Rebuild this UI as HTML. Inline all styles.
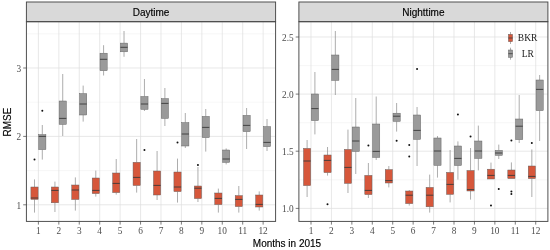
<!DOCTYPE html>
<html><head><meta charset="utf-8"><title>RMSE boxplots</title>
<style>
html,body{margin:0;padding:0;background:#fff;}
svg{display:block;}
.sans{font-family:"Liberation Sans",Arial,sans-serif;font-size:10px;fill:#000;stroke:#000;stroke-width:0.15px;}
.serif{font-family:"Liberation Serif","Times New Roman",serif;font-size:9.3px;fill:#4d4d4d;}
.leg{font-family:"Liberation Serif","Times New Roman",serif;font-size:9.5px;fill:#1a1a1a;}
</style></head><body>
<svg width="550" height="250" viewBox="0 0 550 250">
<rect width="550" height="250" fill="#fff"/>
<rect x="26.4" y="21.7" width="249.20000000000002" height="199.70000000000002" fill="#fff"/>
<path d="M26.4 33.8H275.6" stroke="#efefef" stroke-width="0.5"/>
<path d="M26.4 102.2H275.6" stroke="#efefef" stroke-width="0.5"/>
<path d="M26.4 170.6H275.6" stroke="#efefef" stroke-width="0.5"/>
<path d="M26.4 68H275.6" stroke="#dedede" stroke-width="0.7"/>
<path d="M26.4 136.4H275.6" stroke="#dedede" stroke-width="0.7"/>
<path d="M26.4 204.8H275.6" stroke="#dedede" stroke-width="0.7"/>
<path d="M38.40 21.7V221.4" stroke="#dedede" stroke-width="0.7"/>
<path d="M58.83 21.7V221.4" stroke="#dedede" stroke-width="0.7"/>
<path d="M79.26 21.7V221.4" stroke="#dedede" stroke-width="0.7"/>
<path d="M99.69 21.7V221.4" stroke="#dedede" stroke-width="0.7"/>
<path d="M120.12 21.7V221.4" stroke="#dedede" stroke-width="0.7"/>
<path d="M140.55 21.7V221.4" stroke="#dedede" stroke-width="0.7"/>
<path d="M160.98 21.7V221.4" stroke="#dedede" stroke-width="0.7"/>
<path d="M181.41 21.7V221.4" stroke="#dedede" stroke-width="0.7"/>
<path d="M201.84 21.7V221.4" stroke="#dedede" stroke-width="0.7"/>
<path d="M222.27 21.7V221.4" stroke="#dedede" stroke-width="0.7"/>
<path d="M242.70 21.7V221.4" stroke="#dedede" stroke-width="0.7"/>
<path d="M263.13 21.7V221.4" stroke="#dedede" stroke-width="0.7"/>
<path d="M34.50 179.40V187.00M34.50 199.40V212.60" stroke="#8a8a8a" stroke-width="0.7" fill="none"/>
<rect x="30.90" y="187.00" width="7.2" height="12.40" fill="#d6573b" stroke="#5e5e5e" stroke-width="0.45"/>
<path d="M30.90 198.00H38.10" stroke="#3a3a3a" stroke-width="0.9" fill="none"/>
<circle cx="34.50" cy="159.60" r="1.0" fill="#111"/>
<path d="M54.93 181.60V187.00M54.93 202.80V212.00" stroke="#8a8a8a" stroke-width="0.7" fill="none"/>
<rect x="51.33" y="187.00" width="7.2" height="15.80" fill="#d6573b" stroke="#5e5e5e" stroke-width="0.45"/>
<path d="M51.33 190.40H58.53" stroke="#3a3a3a" stroke-width="0.9" fill="none"/>
<path d="M75.36 177.40V185.00M75.36 199.50V210.60" stroke="#8a8a8a" stroke-width="0.7" fill="none"/>
<rect x="71.76" y="185.00" width="7.2" height="14.50" fill="#d6573b" stroke="#5e5e5e" stroke-width="0.45"/>
<path d="M71.76 190.00H78.96" stroke="#3a3a3a" stroke-width="0.9" fill="none"/>
<path d="M95.79 170.60V178.00M95.79 193.60V196.60" stroke="#8a8a8a" stroke-width="0.7" fill="none"/>
<rect x="92.19" y="178.00" width="7.2" height="15.60" fill="#d6573b" stroke="#5e5e5e" stroke-width="0.45"/>
<path d="M92.19 190.40H99.39" stroke="#3a3a3a" stroke-width="0.9" fill="none"/>
<path d="M116.22 159.00V173.00M116.22 192.60V194.60" stroke="#8a8a8a" stroke-width="0.7" fill="none"/>
<rect x="112.62" y="173.00" width="7.2" height="19.60" fill="#d6573b" stroke="#5e5e5e" stroke-width="0.45"/>
<path d="M112.62 183.40H119.82" stroke="#3a3a3a" stroke-width="0.9" fill="none"/>
<path d="M136.65 139.00V162.30M136.65 185.50V192.60" stroke="#8a8a8a" stroke-width="0.7" fill="none"/>
<rect x="133.05" y="162.30" width="7.2" height="23.20" fill="#d6573b" stroke="#5e5e5e" stroke-width="0.45"/>
<path d="M133.05 177.40H140.25" stroke="#3a3a3a" stroke-width="0.9" fill="none"/>
<path d="M157.08 151.00V171.00M157.08 195.00V200.00" stroke="#8a8a8a" stroke-width="0.7" fill="none"/>
<rect x="153.48" y="171.00" width="7.2" height="24.00" fill="#d6573b" stroke="#5e5e5e" stroke-width="0.45"/>
<path d="M153.48 185.40H160.68" stroke="#3a3a3a" stroke-width="0.9" fill="none"/>
<path d="M177.51 158.60V172.00M177.51 191.60V202.60" stroke="#8a8a8a" stroke-width="0.7" fill="none"/>
<rect x="173.91" y="172.00" width="7.2" height="19.60" fill="#d6573b" stroke="#5e5e5e" stroke-width="0.45"/>
<path d="M173.91 187.00H181.11" stroke="#3a3a3a" stroke-width="0.9" fill="none"/>
<circle cx="177.51" cy="142.60" r="1.0" fill="#111"/>
<path d="M197.94 167.00V186.00M197.94 198.60V202.00" stroke="#8a8a8a" stroke-width="0.7" fill="none"/>
<rect x="194.34" y="186.00" width="7.2" height="12.60" fill="#d6573b" stroke="#5e5e5e" stroke-width="0.45"/>
<path d="M194.34 188.20H201.54" stroke="#3a3a3a" stroke-width="0.9" fill="none"/>
<circle cx="197.94" cy="165.00" r="1.0" fill="#111"/>
<path d="M218.37 188.60V193.00M218.37 204.60V212.60" stroke="#8a8a8a" stroke-width="0.7" fill="none"/>
<rect x="214.77" y="193.00" width="7.2" height="11.60" fill="#d6573b" stroke="#5e5e5e" stroke-width="0.45"/>
<path d="M214.77 198.40H221.97" stroke="#3a3a3a" stroke-width="0.9" fill="none"/>
<path d="M238.80 186.00V195.60M238.80 206.60V212.60" stroke="#8a8a8a" stroke-width="0.7" fill="none"/>
<rect x="235.20" y="195.60" width="7.2" height="11.00" fill="#d6573b" stroke="#5e5e5e" stroke-width="0.45"/>
<path d="M235.20 199.40H242.40" stroke="#3a3a3a" stroke-width="0.9" fill="none"/>
<path d="M259.23 191.40V195.00M259.23 207.00V210.60" stroke="#8a8a8a" stroke-width="0.7" fill="none"/>
<rect x="255.63" y="195.00" width="7.2" height="12.00" fill="#d6573b" stroke="#5e5e5e" stroke-width="0.45"/>
<path d="M255.63 204.40H262.83" stroke="#3a3a3a" stroke-width="0.9" fill="none"/>
<path d="M42.30 125.00V134.60M42.30 149.60V159.60" stroke="#8a8a8a" stroke-width="0.7" fill="none"/>
<rect x="38.70" y="134.60" width="7.2" height="15.00" fill="#9a9a9a" stroke="#5e5e5e" stroke-width="0.45"/>
<path d="M38.70 136.40H45.90" stroke="#3a3a3a" stroke-width="0.9" fill="none"/>
<circle cx="42.30" cy="110.80" r="1.0" fill="#111"/>
<path d="M62.73 74.00V101.00M62.73 124.40V136.00" stroke="#8a8a8a" stroke-width="0.7" fill="none"/>
<rect x="59.13" y="101.00" width="7.2" height="23.40" fill="#9a9a9a" stroke="#5e5e5e" stroke-width="0.45"/>
<path d="M59.13 118.40H66.33" stroke="#3a3a3a" stroke-width="0.9" fill="none"/>
<path d="M83.16 85.60V93.60M83.16 115.00V121.60" stroke="#8a8a8a" stroke-width="0.7" fill="none"/>
<rect x="79.56" y="93.60" width="7.2" height="21.40" fill="#9a9a9a" stroke="#5e5e5e" stroke-width="0.45"/>
<path d="M79.56 104.00H86.76" stroke="#3a3a3a" stroke-width="0.9" fill="none"/>
<path d="M103.59 45.20V53.20M103.59 70.70V75.50" stroke="#8a8a8a" stroke-width="0.7" fill="none"/>
<rect x="99.99" y="53.20" width="7.2" height="17.50" fill="#9a9a9a" stroke="#5e5e5e" stroke-width="0.45"/>
<path d="M99.99 59.30H107.19" stroke="#3a3a3a" stroke-width="0.9" fill="none"/>
<path d="M124.02 31.00V43.10M124.02 51.80V56.80" stroke="#8a8a8a" stroke-width="0.7" fill="none"/>
<rect x="120.42" y="43.10" width="7.2" height="8.70" fill="#9a9a9a" stroke="#5e5e5e" stroke-width="0.45"/>
<path d="M120.42 47.30H127.62" stroke="#3a3a3a" stroke-width="0.9" fill="none"/>
<path d="M144.45 79.00V96.50M144.45 109.40V111.00" stroke="#8a8a8a" stroke-width="0.7" fill="none"/>
<rect x="140.85" y="96.50" width="7.2" height="12.90" fill="#9a9a9a" stroke="#5e5e5e" stroke-width="0.45"/>
<path d="M140.85 104.00H148.05" stroke="#3a3a3a" stroke-width="0.9" fill="none"/>
<circle cx="144.45" cy="150.00" r="1.0" fill="#111"/>
<path d="M164.88 88.00V98.60M164.88 118.40V126.00" stroke="#8a8a8a" stroke-width="0.7" fill="none"/>
<rect x="161.28" y="98.60" width="7.2" height="19.80" fill="#9a9a9a" stroke="#5e5e5e" stroke-width="0.45"/>
<path d="M161.28 103.40H168.48" stroke="#3a3a3a" stroke-width="0.9" fill="none"/>
<path d="M185.31 113.00V122.60M185.31 146.00V148.00" stroke="#8a8a8a" stroke-width="0.7" fill="none"/>
<rect x="181.71" y="122.60" width="7.2" height="23.40" fill="#9a9a9a" stroke="#5e5e5e" stroke-width="0.45"/>
<path d="M181.71 134.00H188.91" stroke="#3a3a3a" stroke-width="0.9" fill="none"/>
<path d="M205.74 109.00V116.40M205.74 137.60V151.60" stroke="#8a8a8a" stroke-width="0.7" fill="none"/>
<rect x="202.14" y="116.40" width="7.2" height="21.20" fill="#9a9a9a" stroke="#5e5e5e" stroke-width="0.45"/>
<path d="M202.14 127.40H209.34" stroke="#3a3a3a" stroke-width="0.9" fill="none"/>
<path d="M226.17 148.40V150.00M226.17 162.40V164.40" stroke="#8a8a8a" stroke-width="0.7" fill="none"/>
<rect x="222.57" y="150.00" width="7.2" height="12.40" fill="#9a9a9a" stroke="#5e5e5e" stroke-width="0.45"/>
<path d="M222.57 159.00H229.77" stroke="#3a3a3a" stroke-width="0.9" fill="none"/>
<path d="M246.60 108.00V115.40M246.60 131.60V149.00" stroke="#8a8a8a" stroke-width="0.7" fill="none"/>
<rect x="243.00" y="115.40" width="7.2" height="16.20" fill="#9a9a9a" stroke="#5e5e5e" stroke-width="0.45"/>
<path d="M243.00 125.40H250.20" stroke="#3a3a3a" stroke-width="0.9" fill="none"/>
<path d="M267.03 119.00V126.60M267.03 146.60V151.00" stroke="#8a8a8a" stroke-width="0.7" fill="none"/>
<rect x="263.43" y="126.60" width="7.2" height="20.00" fill="#9a9a9a" stroke="#5e5e5e" stroke-width="0.45"/>
<path d="M263.43 142.40H270.63" stroke="#3a3a3a" stroke-width="0.9" fill="none"/>
<rect x="26.4" y="2.0" width="249.20" height="19.70" fill="#d9d9d9" stroke="#484848" stroke-width="0.95"/>
<rect x="26.4" y="21.7" width="249.20000000000002" height="199.70000000000002" fill="none" stroke="#484848" stroke-width="0.95"/>
<text x="151.00" y="15.9" text-anchor="middle" class="sans">Daytime</text>
<path d="M38.40 221.4V224.6" stroke="#444" stroke-width="0.7"/>
<text x="38.40" y="233.6" text-anchor="middle" class="serif">1</text>
<path d="M58.83 221.4V224.6" stroke="#444" stroke-width="0.7"/>
<text x="58.83" y="233.6" text-anchor="middle" class="serif">2</text>
<path d="M79.26 221.4V224.6" stroke="#444" stroke-width="0.7"/>
<text x="79.26" y="233.6" text-anchor="middle" class="serif">3</text>
<path d="M99.69 221.4V224.6" stroke="#444" stroke-width="0.7"/>
<text x="99.69" y="233.6" text-anchor="middle" class="serif">4</text>
<path d="M120.12 221.4V224.6" stroke="#444" stroke-width="0.7"/>
<text x="120.12" y="233.6" text-anchor="middle" class="serif">5</text>
<path d="M140.55 221.4V224.6" stroke="#444" stroke-width="0.7"/>
<text x="140.55" y="233.6" text-anchor="middle" class="serif">6</text>
<path d="M160.98 221.4V224.6" stroke="#444" stroke-width="0.7"/>
<text x="160.98" y="233.6" text-anchor="middle" class="serif">7</text>
<path d="M181.41 221.4V224.6" stroke="#444" stroke-width="0.7"/>
<text x="181.41" y="233.6" text-anchor="middle" class="serif">8</text>
<path d="M201.84 221.4V224.6" stroke="#444" stroke-width="0.7"/>
<text x="201.84" y="233.6" text-anchor="middle" class="serif">9</text>
<path d="M222.27 221.4V224.6" stroke="#444" stroke-width="0.7"/>
<text x="222.27" y="233.6" text-anchor="middle" class="serif">10</text>
<path d="M242.70 221.4V224.6" stroke="#444" stroke-width="0.7"/>
<text x="242.70" y="233.6" text-anchor="middle" class="serif">11</text>
<path d="M263.13 221.4V224.6" stroke="#444" stroke-width="0.7"/>
<text x="263.13" y="233.6" text-anchor="middle" class="serif">12</text>
<path d="M23.2 68H26.4" stroke="#444" stroke-width="0.7"/>
<text x="21.2" y="71.80" text-anchor="end" class="serif">3</text>
<path d="M23.2 136.4H26.4" stroke="#444" stroke-width="0.7"/>
<text x="21.2" y="140.20" text-anchor="end" class="serif">2</text>
<path d="M23.2 204.8H26.4" stroke="#444" stroke-width="0.7"/>
<text x="21.2" y="208.60" text-anchor="end" class="serif">1</text>
<rect x="298.9" y="21.7" width="249.0" height="199.70000000000002" fill="#fff"/>
<path d="M298.9 65.6H547.9" stroke="#efefef" stroke-width="0.5"/>
<path d="M298.9 122.7H547.9" stroke="#efefef" stroke-width="0.5"/>
<path d="M298.9 179.8H547.9" stroke="#efefef" stroke-width="0.5"/>
<path d="M298.9 37H547.9" stroke="#dedede" stroke-width="0.7"/>
<path d="M298.9 94.1H547.9" stroke="#dedede" stroke-width="0.7"/>
<path d="M298.9 151.2H547.9" stroke="#dedede" stroke-width="0.7"/>
<path d="M298.9 208.4H547.9" stroke="#dedede" stroke-width="0.7"/>
<path d="M311.00 21.7V221.4" stroke="#dedede" stroke-width="0.7"/>
<path d="M331.43 21.7V221.4" stroke="#dedede" stroke-width="0.7"/>
<path d="M351.86 21.7V221.4" stroke="#dedede" stroke-width="0.7"/>
<path d="M372.29 21.7V221.4" stroke="#dedede" stroke-width="0.7"/>
<path d="M392.72 21.7V221.4" stroke="#dedede" stroke-width="0.7"/>
<path d="M413.15 21.7V221.4" stroke="#dedede" stroke-width="0.7"/>
<path d="M433.58 21.7V221.4" stroke="#dedede" stroke-width="0.7"/>
<path d="M454.01 21.7V221.4" stroke="#dedede" stroke-width="0.7"/>
<path d="M474.44 21.7V221.4" stroke="#dedede" stroke-width="0.7"/>
<path d="M494.87 21.7V221.4" stroke="#dedede" stroke-width="0.7"/>
<path d="M515.30 21.7V221.4" stroke="#dedede" stroke-width="0.7"/>
<path d="M535.73 21.7V221.4" stroke="#dedede" stroke-width="0.7"/>
<path d="M307.10 140.00V148.40M307.10 185.60V197.00" stroke="#8a8a8a" stroke-width="0.7" fill="none"/>
<rect x="303.50" y="148.40" width="7.2" height="37.20" fill="#d6573b" stroke="#5e5e5e" stroke-width="0.45"/>
<path d="M303.50 161.00H310.70" stroke="#3a3a3a" stroke-width="0.9" fill="none"/>
<path d="M327.53 147.00V155.00M327.53 172.60V175.60" stroke="#8a8a8a" stroke-width="0.7" fill="none"/>
<rect x="323.93" y="155.00" width="7.2" height="17.60" fill="#d6573b" stroke="#5e5e5e" stroke-width="0.45"/>
<path d="M323.93 160.40H331.13" stroke="#3a3a3a" stroke-width="0.9" fill="none"/>
<circle cx="327.53" cy="204.20" r="1.0" fill="#111"/>
<path d="M347.96 129.60V149.40M347.96 183.40V193.00" stroke="#8a8a8a" stroke-width="0.7" fill="none"/>
<rect x="344.36" y="149.40" width="7.2" height="34.00" fill="#d6573b" stroke="#5e5e5e" stroke-width="0.45"/>
<path d="M344.36 167.40H351.56" stroke="#3a3a3a" stroke-width="0.9" fill="none"/>
<path d="M368.39 163.00V175.40M368.39 194.60V198.00" stroke="#8a8a8a" stroke-width="0.7" fill="none"/>
<rect x="364.79" y="175.40" width="7.2" height="19.20" fill="#d6573b" stroke="#5e5e5e" stroke-width="0.45"/>
<path d="M364.79 190.40H371.99" stroke="#3a3a3a" stroke-width="0.9" fill="none"/>
<circle cx="368.39" cy="145.60" r="1.0" fill="#111"/>
<path d="M388.82 166.00V169.60M388.82 183.00V187.40" stroke="#8a8a8a" stroke-width="0.7" fill="none"/>
<rect x="385.22" y="169.60" width="7.2" height="13.40" fill="#d6573b" stroke="#5e5e5e" stroke-width="0.45"/>
<path d="M385.22 180.60H392.42" stroke="#3a3a3a" stroke-width="0.9" fill="none"/>
<path d="M409.25 190.00V191.00M409.25 203.60V205.60" stroke="#8a8a8a" stroke-width="0.7" fill="none"/>
<rect x="405.65" y="191.00" width="7.2" height="12.60" fill="#d6573b" stroke="#5e5e5e" stroke-width="0.45"/>
<path d="M405.65 195.20H412.85" stroke="#3a3a3a" stroke-width="0.9" fill="none"/>
<circle cx="409.25" cy="145.00" r="1.0" fill="#111"/>
<circle cx="409.25" cy="156.60" r="1.0" fill="#111"/>
<path d="M429.68 174.60V187.40M429.68 206.80V212.60" stroke="#8a8a8a" stroke-width="0.7" fill="none"/>
<rect x="426.08" y="187.40" width="7.2" height="19.40" fill="#d6573b" stroke="#5e5e5e" stroke-width="0.45"/>
<path d="M426.08 195.20H433.28" stroke="#3a3a3a" stroke-width="0.9" fill="none"/>
<path d="M450.11 150.00V172.40M450.11 194.40V202.40" stroke="#8a8a8a" stroke-width="0.7" fill="none"/>
<rect x="446.51" y="172.40" width="7.2" height="22.00" fill="#d6573b" stroke="#5e5e5e" stroke-width="0.45"/>
<path d="M446.51 184.40H453.71" stroke="#3a3a3a" stroke-width="0.9" fill="none"/>
<path d="M470.54 148.00V170.50M470.54 191.00V199.60" stroke="#8a8a8a" stroke-width="0.7" fill="none"/>
<rect x="466.94" y="170.50" width="7.2" height="20.50" fill="#d6573b" stroke="#5e5e5e" stroke-width="0.45"/>
<path d="M466.94 189.60H474.14" stroke="#3a3a3a" stroke-width="0.9" fill="none"/>
<circle cx="470.54" cy="136.60" r="1.0" fill="#111"/>
<path d="M490.97 162.60V169.20M490.97 179.00V179.00" stroke="#8a8a8a" stroke-width="0.7" fill="none"/>
<rect x="487.37" y="169.20" width="7.2" height="9.80" fill="#d6573b" stroke="#5e5e5e" stroke-width="0.45"/>
<path d="M487.37 175.40H494.57" stroke="#3a3a3a" stroke-width="0.9" fill="none"/>
<circle cx="490.97" cy="205.40" r="1.0" fill="#111"/>
<path d="M511.40 162.40V170.00M511.40 178.60V178.60" stroke="#8a8a8a" stroke-width="0.7" fill="none"/>
<rect x="507.80" y="170.00" width="7.2" height="8.60" fill="#d6573b" stroke="#5e5e5e" stroke-width="0.45"/>
<path d="M507.80 175.40H515.00" stroke="#3a3a3a" stroke-width="0.9" fill="none"/>
<circle cx="511.40" cy="140.60" r="1.0" fill="#111"/>
<circle cx="511.40" cy="191.40" r="1.0" fill="#111"/>
<circle cx="511.40" cy="194.00" r="1.0" fill="#111"/>
<path d="M531.83 149.40V166.00M531.83 178.60V197.00" stroke="#8a8a8a" stroke-width="0.7" fill="none"/>
<rect x="528.23" y="166.00" width="7.2" height="12.60" fill="#d6573b" stroke="#5e5e5e" stroke-width="0.45"/>
<path d="M528.23 176.40H535.43" stroke="#3a3a3a" stroke-width="0.9" fill="none"/>
<circle cx="531.83" cy="143.00" r="1.0" fill="#111"/>
<path d="M314.90 72.00V94.00M314.90 120.60V134.40" stroke="#8a8a8a" stroke-width="0.7" fill="none"/>
<rect x="311.30" y="94.00" width="7.2" height="26.60" fill="#9a9a9a" stroke="#5e5e5e" stroke-width="0.45"/>
<path d="M311.30 108.60H318.50" stroke="#3a3a3a" stroke-width="0.9" fill="none"/>
<path d="M335.33 31.00V55.00M335.33 80.40V95.00" stroke="#8a8a8a" stroke-width="0.7" fill="none"/>
<rect x="331.73" y="55.00" width="7.2" height="25.40" fill="#9a9a9a" stroke="#5e5e5e" stroke-width="0.45"/>
<path d="M331.73 69.40H338.93" stroke="#3a3a3a" stroke-width="0.9" fill="none"/>
<path d="M355.76 98.00V127.00M355.76 151.40V174.00" stroke="#8a8a8a" stroke-width="0.7" fill="none"/>
<rect x="352.16" y="127.00" width="7.2" height="24.40" fill="#9a9a9a" stroke="#5e5e5e" stroke-width="0.45"/>
<path d="M352.16 141.00H359.36" stroke="#3a3a3a" stroke-width="0.9" fill="none"/>
<path d="M376.19 96.50V124.00M376.19 157.40V160.00" stroke="#8a8a8a" stroke-width="0.7" fill="none"/>
<rect x="372.59" y="124.00" width="7.2" height="33.40" fill="#9a9a9a" stroke="#5e5e5e" stroke-width="0.45"/>
<path d="M372.59 151.40H379.79" stroke="#3a3a3a" stroke-width="0.9" fill="none"/>
<path d="M396.62 103.00V113.20M396.62 121.40V131.60" stroke="#8a8a8a" stroke-width="0.7" fill="none"/>
<rect x="393.02" y="113.20" width="7.2" height="8.20" fill="#9a9a9a" stroke="#5e5e5e" stroke-width="0.45"/>
<path d="M393.02 116.20H400.22" stroke="#3a3a3a" stroke-width="0.9" fill="none"/>
<circle cx="396.62" cy="140.80" r="1.0" fill="#111"/>
<path d="M417.05 107.00V115.00M417.05 139.40V166.00" stroke="#8a8a8a" stroke-width="0.7" fill="none"/>
<rect x="413.45" y="115.00" width="7.2" height="24.40" fill="#9a9a9a" stroke="#5e5e5e" stroke-width="0.45"/>
<path d="M413.45 130.40H420.65" stroke="#3a3a3a" stroke-width="0.9" fill="none"/>
<circle cx="417.05" cy="69.00" r="1.0" fill="#111"/>
<path d="M437.48 136.00V138.00M437.48 165.40V177.60" stroke="#8a8a8a" stroke-width="0.7" fill="none"/>
<rect x="433.88" y="138.00" width="7.2" height="27.40" fill="#9a9a9a" stroke="#5e5e5e" stroke-width="0.45"/>
<path d="M433.88 151.00H441.08" stroke="#3a3a3a" stroke-width="0.9" fill="none"/>
<path d="M457.91 141.40V146.00M457.91 165.50V179.60" stroke="#8a8a8a" stroke-width="0.7" fill="none"/>
<rect x="454.31" y="146.00" width="7.2" height="19.50" fill="#9a9a9a" stroke="#5e5e5e" stroke-width="0.45"/>
<path d="M454.31 158.40H461.51" stroke="#3a3a3a" stroke-width="0.9" fill="none"/>
<circle cx="457.91" cy="114.40" r="1.0" fill="#111"/>
<path d="M478.34 125.60V141.00M478.34 158.40V170.40" stroke="#8a8a8a" stroke-width="0.7" fill="none"/>
<rect x="474.74" y="141.00" width="7.2" height="17.40" fill="#9a9a9a" stroke="#5e5e5e" stroke-width="0.45"/>
<path d="M474.74 151.00H481.94" stroke="#3a3a3a" stroke-width="0.9" fill="none"/>
<path d="M498.77 144.60V150.40M498.77 155.40V159.00" stroke="#8a8a8a" stroke-width="0.7" fill="none"/>
<rect x="495.17" y="150.40" width="7.2" height="5.00" fill="#9a9a9a" stroke="#5e5e5e" stroke-width="0.45"/>
<path d="M495.17 153.00H502.37" stroke="#3a3a3a" stroke-width="0.9" fill="none"/>
<circle cx="498.77" cy="189.00" r="1.0" fill="#111"/>
<path d="M519.20 95.00V119.00M519.20 139.60V143.00" stroke="#8a8a8a" stroke-width="0.7" fill="none"/>
<rect x="515.60" y="119.00" width="7.2" height="20.60" fill="#9a9a9a" stroke="#5e5e5e" stroke-width="0.45"/>
<path d="M515.60 126.20H522.80" stroke="#3a3a3a" stroke-width="0.9" fill="none"/>
<path d="M539.63 75.00V80.00M539.63 110.60V141.00" stroke="#8a8a8a" stroke-width="0.7" fill="none"/>
<rect x="536.03" y="80.00" width="7.2" height="30.60" fill="#9a9a9a" stroke="#5e5e5e" stroke-width="0.45"/>
<path d="M536.03 89.40H543.23" stroke="#3a3a3a" stroke-width="0.9" fill="none"/>
<rect x="298.9" y="2.0" width="249.00" height="19.70" fill="#d9d9d9" stroke="#484848" stroke-width="0.95"/>
<rect x="298.9" y="21.7" width="249.0" height="199.70000000000002" fill="none" stroke="#484848" stroke-width="0.95"/>
<text x="423.40" y="15.9" text-anchor="middle" class="sans">Nighttime</text>
<path d="M311.00 221.4V224.6" stroke="#444" stroke-width="0.7"/>
<text x="311.00" y="233.6" text-anchor="middle" class="serif">1</text>
<path d="M331.43 221.4V224.6" stroke="#444" stroke-width="0.7"/>
<text x="331.43" y="233.6" text-anchor="middle" class="serif">2</text>
<path d="M351.86 221.4V224.6" stroke="#444" stroke-width="0.7"/>
<text x="351.86" y="233.6" text-anchor="middle" class="serif">3</text>
<path d="M372.29 221.4V224.6" stroke="#444" stroke-width="0.7"/>
<text x="372.29" y="233.6" text-anchor="middle" class="serif">4</text>
<path d="M392.72 221.4V224.6" stroke="#444" stroke-width="0.7"/>
<text x="392.72" y="233.6" text-anchor="middle" class="serif">5</text>
<path d="M413.15 221.4V224.6" stroke="#444" stroke-width="0.7"/>
<text x="413.15" y="233.6" text-anchor="middle" class="serif">6</text>
<path d="M433.58 221.4V224.6" stroke="#444" stroke-width="0.7"/>
<text x="433.58" y="233.6" text-anchor="middle" class="serif">7</text>
<path d="M454.01 221.4V224.6" stroke="#444" stroke-width="0.7"/>
<text x="454.01" y="233.6" text-anchor="middle" class="serif">8</text>
<path d="M474.44 221.4V224.6" stroke="#444" stroke-width="0.7"/>
<text x="474.44" y="233.6" text-anchor="middle" class="serif">9</text>
<path d="M494.87 221.4V224.6" stroke="#444" stroke-width="0.7"/>
<text x="494.87" y="233.6" text-anchor="middle" class="serif">10</text>
<path d="M515.30 221.4V224.6" stroke="#444" stroke-width="0.7"/>
<text x="515.30" y="233.6" text-anchor="middle" class="serif">11</text>
<path d="M535.73 221.4V224.6" stroke="#444" stroke-width="0.7"/>
<text x="535.73" y="233.6" text-anchor="middle" class="serif">12</text>
<path d="M295.7 37H298.9" stroke="#444" stroke-width="0.7"/>
<text x="293.7" y="40.80" text-anchor="end" class="serif">2.5</text>
<path d="M295.7 94.1H298.9" stroke="#444" stroke-width="0.7"/>
<text x="293.7" y="97.90" text-anchor="end" class="serif">2.0</text>
<path d="M295.7 151.2H298.9" stroke="#444" stroke-width="0.7"/>
<text x="293.7" y="155.00" text-anchor="end" class="serif">1.5</text>
<path d="M295.7 208.4H298.9" stroke="#444" stroke-width="0.7"/>
<text x="293.7" y="212.20" text-anchor="end" class="serif">1.0</text>
<path d="M510.5 32V44" stroke="#8a8a8a" stroke-width="0.7"/><rect x="508.4" y="34.3" width="4.2" height="7.4" fill="#d6573b" stroke="#5e5e5e" stroke-width="0.45"/><path d="M508.4 38H512.6" stroke="#3a3a3a" stroke-width="0.8"/>
<path d="M510.5 47.7V59.7" stroke="#8a8a8a" stroke-width="0.7"/><rect x="508.4" y="50.0" width="4.2" height="7.4" fill="#9a9a9a" stroke="#5e5e5e" stroke-width="0.45"/><path d="M508.4 53.7H512.6" stroke="#3a3a3a" stroke-width="0.8"/>
<text x="527.6" y="41.2" text-anchor="middle" class="leg">BKR</text>
<text x="527.8" y="57" text-anchor="middle" class="leg">LR</text>
<text x="287" y="246.6" text-anchor="middle" class="sans">Months in 2015</text>
<text transform="translate(11.0,122) rotate(-90)" text-anchor="middle" class="sans">RMSE</text>
</svg>
</body></html>
